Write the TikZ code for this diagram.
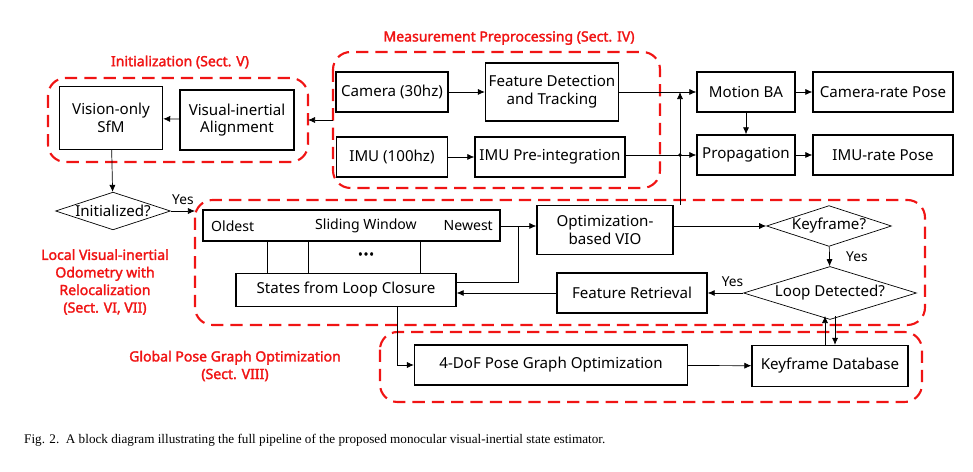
\documentclass[tikz,border=0pt]{standalone}
\usepackage{fontspec}
\setmainfont{Noto Sans}[AutoFakeBold=2]
\newfontfamily\capfont{Liberation Serif}
\usepackage{tikz}
\usetikzlibrary{arrows.meta,shapes.geometric,positioning}

\definecolor{regred}{RGB}{240,20,20}
\tikzset{
	blk/.style={draw,thick,minimum height=0.8cm,align=center,font=\fontsize{8.6}{10}\selectfont,inner sep=1pt},
	dec/.style={draw,diamond,aspect=2.9,inner sep=0pt,font=\fontsize{8.6}{10}\selectfont},
	reg/.style={draw=regred,very thick,dash pattern=on 7pt off 4pt,rounded corners=10pt},
	regtxt/.style={text=regred,font=\bfseries\fontsize{8}{10}\selectfont,align=center},
	lnk/.style={-{Latex[length=4pt,width=3.5pt]},thin},
	ln/.style={thin},
	yes/.style={font=\fontsize{7.8}{9}\selectfont}
}

\begin{document}
\begin{tikzpicture}[x=0.02cm,y=-0.02cm]
	\useasboundingbox (0,0) rectangle (973,472);

	% region frames
	\draw[reg] (48,78) rectangle (308,162);
	\draw[reg] (333,52) rectangle (660,188);
	\draw[reg] (195,200) rectangle (925,325);
	\draw[reg] (380,332) rectangle (922,402);
	\node[regtxt] (initT) at (180,62) {Initialization (Sect. V)};
	\node[regtxt] (measT) at (509,38) {Measurement Preprocessing (Sect. IV)};
	\node[regtxt] (vioT) at (105,282) {Local Visual-inertial\\Odometry with\\Relocalization\\(Sect. VI, VII)};
	\node[regtxt] (gloT) at (235,366) {Global Pose Graph Optimization\\(Sect. VIII)};

	% measurement preprocessing
	\node[blk,minimum width=2.24cm] (cam) at (392,92) {Camera (30hz)};
	\node[blk,minimum width=2.66cm,minimum height=1.16cm] (feat) at (552,92) {Feature Detection\\and Tracking};
	\node[blk,minimum width=2.22cm] (imu) at (392,157) {IMU (100hz)};
	\node[blk,minimum width=3cm] (pre) at (550,157) {IMU Pre-integration};
	\node[blk,minimum width=1.96cm] (mba) at (746,92) {Motion BA};
	\node[blk,minimum width=2.8cm] (cpose) at (883,92) {Camera-rate Pose};
	\node[blk,minimum width=1.96cm] (prop) at (746,155) {Propagation};
	\node[blk,minimum width=2.8cm] (ipose) at (883,155) {IMU-rate Pose};

	% initialization
	\node[blk,minimum width=2.06cm,minimum height=1.26cm] (sfm) at (111,118) {Vision-only\\SfM};
	\node[blk,minimum width=2.28cm,minimum height=1.2cm] (align) at (237,120) {Visual-inertial\\Alignment};
	\node[dec,minimum width=2.3cm] (init) at (113,211) {Initialized?};

	% local VIO
	\node[blk,minimum width=5.94cm,minimum height=0.62cm] (win) at (351.5,225.5) {};
	\node[font=\fontsize{8}{9}\selectfont,anchor=west] (old) at (205,226) {Oldest};
	\node[font=\fontsize{8}{9}\selectfont] (sw) at (366,226) {Sliding Window};
	\node[font=\fontsize{8}{9}\selectfont,anchor=east] (new) at (499,226) {Newest};
	\node[blk,minimum width=4.4cm,minimum height=0.66cm] (slc) at (346,290) {States from Loop Closure};
	\node[font=\bfseries\large] (dots) at (366,254) {...};
	\node[blk,minimum width=2.72cm,minimum height=0.98cm] (vio) at (605,230) {Optimization-\\based VIO};
	\node[dec,minimum width=2.5cm] (kf) at (829,226) {Keyframe?};
	\node[dec,minimum width=3.46cm] (loop) at (830,293) {Loop Detected?};
	\node[blk,minimum width=3cm] (fr) at (632,293) {Feature Retrieval};

	% global pose graph
	\node[blk,minimum width=5.46cm] (pgo) at (551,365) {4-DoF Pose Graph Optimization};
	\node[blk,minimum width=3.12cm,minimum height=0.82cm] (kdb) at (830,366) {Keyframe Database};

	% connections
	\draw[lnk] (cam) -- (feat);
	\draw[lnk] (imu) -- (pre);
	\draw[lnk] (feat.east |- mba) -- (mba);
	\draw[lnk] (pre.east |- prop) -- (prop);
	\draw[lnk] (mba) -- (prop);
	\draw[lnk] (mba) -- (cpose);
	\draw[lnk] (prop) -- (ipose);
	\coordinate (jn) at (680,155);
	\draw[lnk] (vio.north -| jn) -- (680,92);
	\fill (jn) circle (1.8);
	\draw[lnk] (333,120) -- (align.east -| 308,0);
	\draw[lnk] (align) -- (sfm);
	\draw[lnk] (sfm) -- (init);
	\draw[lnk] (init) -- node[yes,above] {Yes} (195,211);
	\draw[lnk] (win.east |- new) -- (vio.west |- new);
	\draw[ln] (slc.east |- 0,282) -| (518,226);
	\foreach \xx in {267,308,420}
		\draw[ln] (\xx,241) -- (\xx,273);
	\draw[lnk] (vio.east |- kf) -- (kf);
	\draw[lnk] (kf) -- node[yes,right,xshift=6pt] {Yes} (loop);
	\draw[lnk] (loop) -- node[yes,above,pos=0.3] {Yes} (fr);
	\draw[lnk] (fr) -- (slc.east |- fr);
	\draw[lnk] (397,306) |- (pgo);
	\draw[lnk] (pgo) -- (kdb);
	\draw[lnk] (kdb.north -| 825,0) -- (825,316);
	\draw[lnk] (835,316) -- (kdb.north -| 835,0);

	% caption
	\node[anchor=west,font=\capfont\fontsize{7.5}{8}\selectfont] (cap) at (18,440) {Fig. 2.\ \ A block diagram illustrating the full pipeline of the proposed monocular visual-inertial state estimator.};
\end{tikzpicture}
\end{document}
